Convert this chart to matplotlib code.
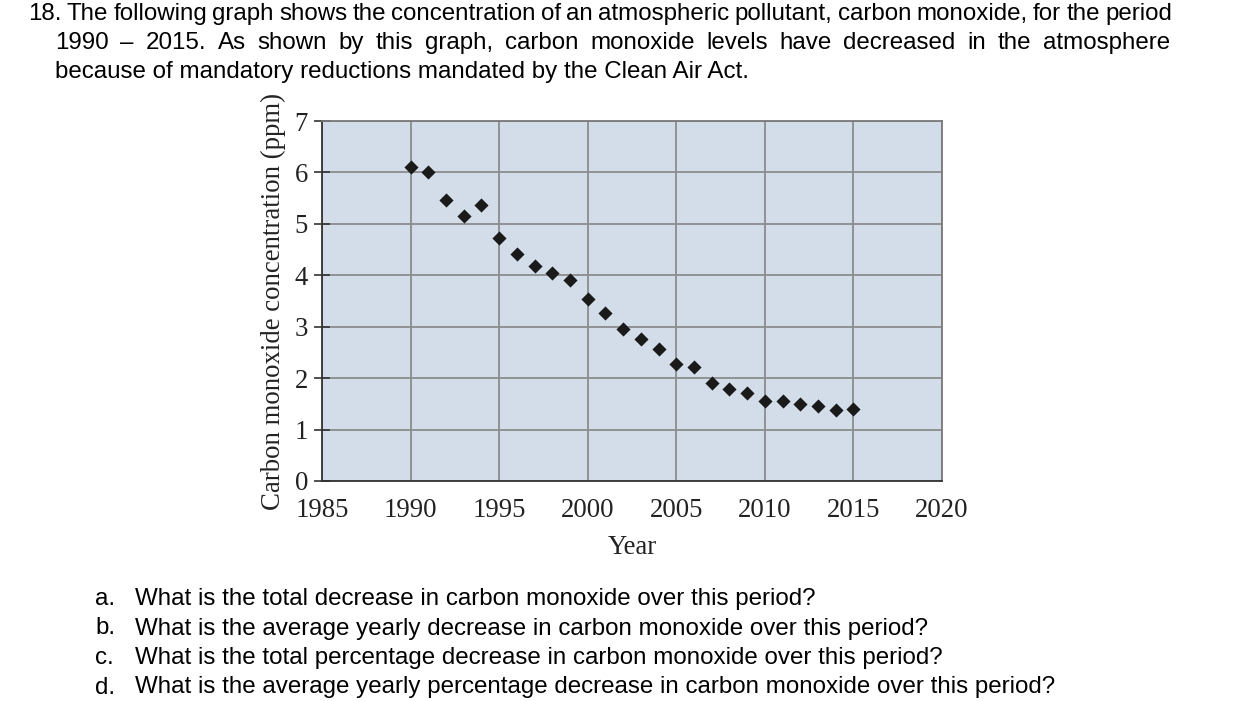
import matplotlib
matplotlib.use("Agg")
from matplotlib import pyplot as plt

years = [1990, 1991, 1992, 1993, 1994, 1995, 1996, 1997, 1998, 1999, 2000, 2001, 2002,
         2003, 2004, 2005, 2006, 2007, 2008, 2009, 2010, 2011, 2012, 2013, 2014, 2015]
co_ppm = [6.10, 6.00, 5.47, 5.16, 5.37, 4.72, 4.41, 4.19, 4.05, 3.91, 3.54, 3.27, 2.96,
          2.76, 2.57, 2.28, 2.22, 1.91, 1.78, 1.72, 1.56, 1.56, 1.50, 1.46, 1.39, 1.40]
x_ticks = [1985, 1990, 1995, 2000, 2005, 2010, 2015, 2020]
y_ticks = [0, 1, 2, 3, 4, 5, 6, 7]

intro = ["18. The following graph shows the concentration of an atmospheric pollutant, carbon monoxide, for the period",
         "1990 \u2013 2015. As shown by this graph, carbon monoxide levels have decreased in the atmosphere",
         "because of mandatory reductions mandated by the Clean Air Act."]
questions = [("a.", "What is the total decrease in carbon monoxide over this period?"),
             ("b.", "What is the average yearly decrease in carbon monoxide over this period?"),
             ("c.", "What is the total percentage decrease in carbon monoxide over this period?"),
             ("d.", "What is the average yearly percentage decrease in carbon monoxide over this period?")]

W, H = 1239, 701
fig = plt.figure(figsize=(W / 100, H / 100), dpi=100)
sans = "Liberation Sans"
serif = "Liberation Serif"
fs = 17.4
sfs = 19.3


def justify(words, x0, x1, y):
    # draw words spread so the line fills x0..x1 (pixel coords)
    r = fig.canvas.get_renderer()
    arts = [fig.text(0, 1 - y / H, w, fontsize=fs, family=sans, va="center") for w in words]
    widths = [a.get_window_extent(r).width for a in arts]
    gap = (x1 - x0 - sum(widths)) / (len(words) - 1)
    x = x0
    for a, wd in zip(arts, widths):
        a.set_x(x / W)
        x += wd + gap


justify(intro[0].split(" "), 28, 1172, 14)
justify(intro[1].split(" "), 55, 1170, 43)
fig.text(55 / W, 1 - 72 / H, intro[2], fontsize=fs, family=sans, va="center")

for i, (lab, q) in enumerate(questions):
    y = 1 - (599 + 29.5 * i) / H
    fig.text(95 / W, y, lab, fontsize=fs, family=sans, va="center")
    fig.text(135 / W, y, q, fontsize=fs, family=sans, va="center")

ax = fig.add_axes([322 / W, 1 - 481 / H, (942 - 322) / W, (481 - 121) / H])
ax.set_facecolor("#d2dde9")
ax.scatter(years, co_ppm, marker="D", s=52, color="#1a1a1a", zorder=3, linewidths=0)
ax.set_xlim(1985, 2020)
ax.set_ylim(0, 7)
ax.set_xticks(x_ticks)
ax.set_yticks(y_ticks)
ax.grid(color="#8c8c8c", linewidth=1.3)
ax.set_axisbelow(True)
for s in ax.spines.values():
    s.set_color("#7a7a7a")
    s.set_linewidth(1.3)
ax.spines["left"].set_color("#333333")
ax.spines["bottom"].set_color("#333333")
ax.tick_params(axis="y", direction="inout", length=12, width=1.2, color="#333333", pad=4)
ax.tick_params(axis="x", length=0, pad=12)
for t in ax.get_xticklabels() + ax.get_yticklabels():
    t.set_fontfamily(serif)
    t.set_fontsize(sfs)
    t.set_color("#222222")
ax.set_xlabel("Year", family=serif, fontsize=sfs, labelpad=9, color="#222222")
ax.set_ylabel("Carbon monoxide concentration (ppm)", family=serif, fontsize=sfs,
              labelpad=6, color="#222222")

fig.savefig("out.png", dpi=100)
